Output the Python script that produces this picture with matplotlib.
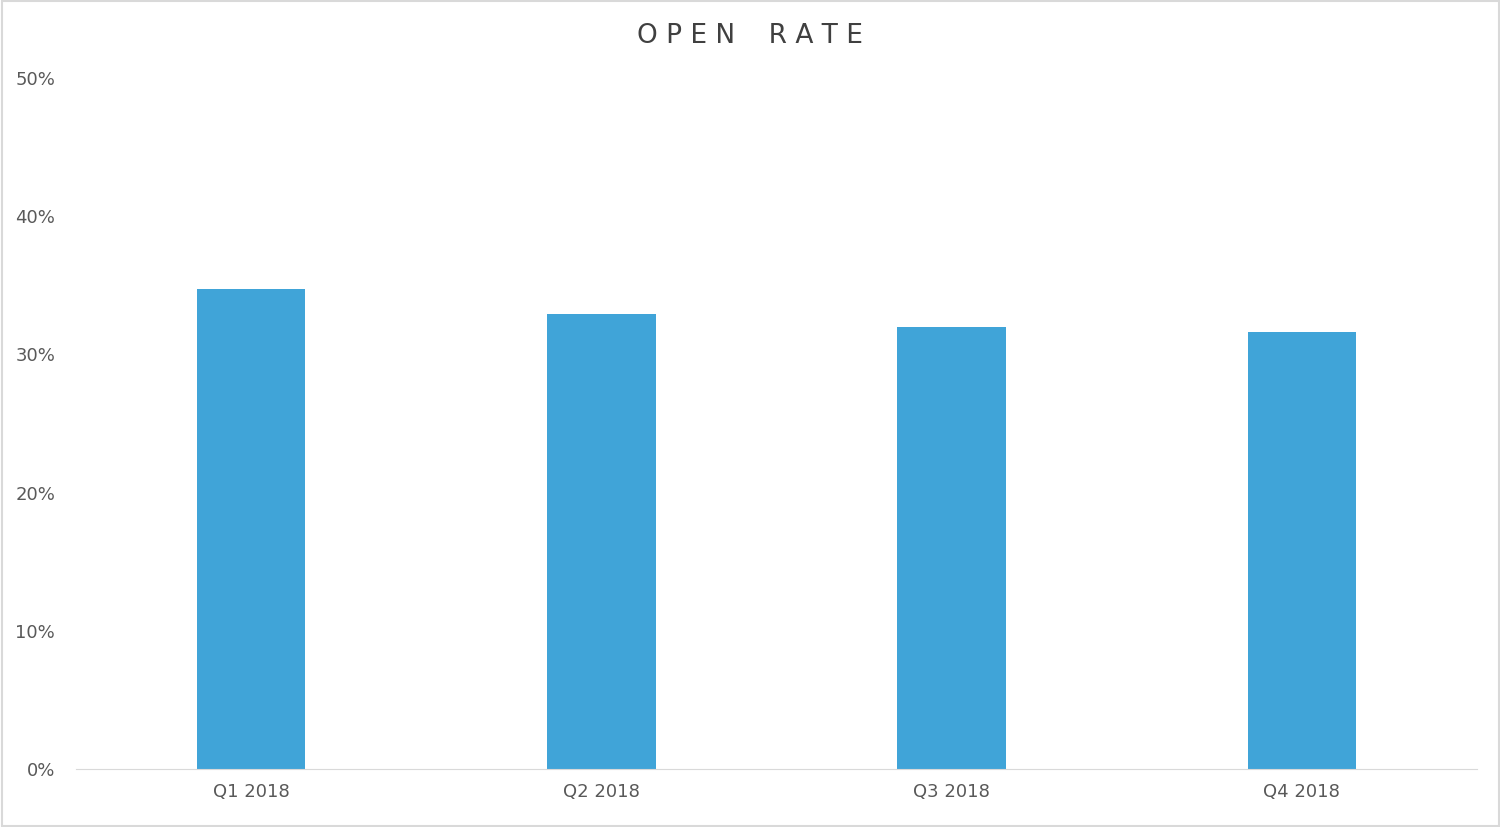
import matplotlib.pyplot as plt
from matplotlib.patches import Rectangle

# data
quarters = ['Q1 2018', 'Q2 2018', 'Q3 2018', 'Q4 2018']
open_rate = [34.7, 32.9, 32.0, 31.6]
y_ticks = [0, 10, 20, 30, 40, 50]

fig = plt.figure(figsize=(15, 8.27), dpi=100)
ax = fig.add_axes([0.0507, 0.0701, 0.934, 0.8356])

ax.bar(range(len(quarters)), open_rate, width=0.31, color='#40a4d8')
ax.set_xlim(-0.5, len(quarters) - 0.5)
ax.set_ylim(0, 50)
ax.set_xticks(range(len(quarters)))
ax.set_xticklabels(quarters, fontsize=13, color='#595959')
ax.set_yticks(y_ticks)
ax.set_yticklabels([f'{t}%' for t in y_ticks], fontsize=13, color='#595959')
ax.tick_params(axis='y', length=0, pad=15)
ax.tick_params(axis='x', length=0, pad=10)
for s in ['top', 'right', 'left']:
    ax.spines[s].set_visible(False)
ax.spines['bottom'].set_color('#d9d9d9')

fig.text(0.5, 0.956, 'O P E N    R A T E', ha='center', va='center',
         fontsize=19, color='#404040')

# light border around the chart
fig.patches.append(Rectangle((0.001, 0.001), 0.998, 0.998, transform=fig.transFigure,
                             fill=False, edgecolor='#d9d9d9', lw=1.5))

fig.savefig('out.png', dpi=100)
